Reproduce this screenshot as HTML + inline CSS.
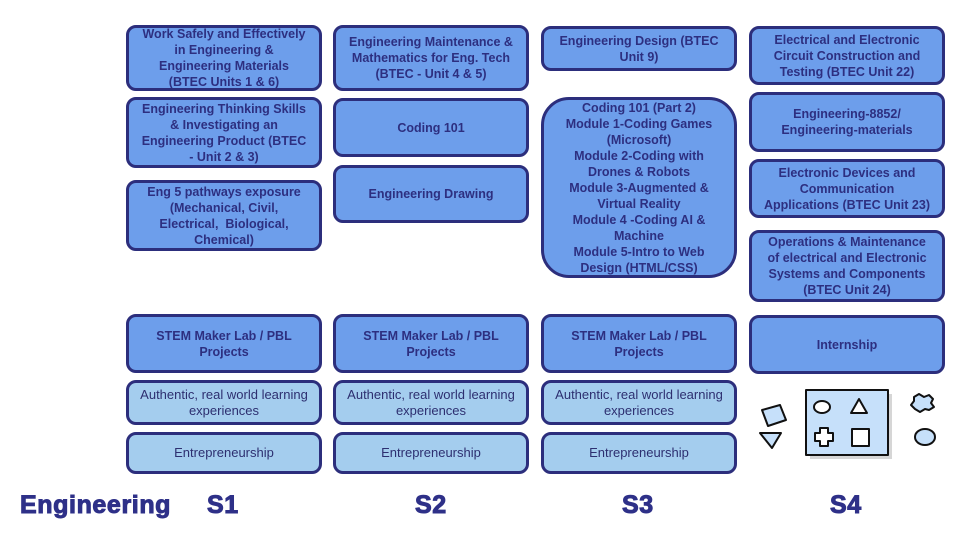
<!DOCTYPE html>
<html><head><meta charset="utf-8"><style>
body{margin:0;width:960px;height:540px;background:#fff;position:relative;overflow:hidden;font-family:"Liberation Sans",sans-serif}
.b{position:absolute;box-sizing:border-box;border:3px solid #2c2e7c;border-radius:10px;background:#6d9eeb;color:#2d2f80;font-weight:bold;font-size:12.5px;line-height:16px;text-align:center;display:flex;align-items:center;justify-content:center;padding:0 2px;white-space:nowrap}
.l{background:#a4cdee;font-weight:normal;font-size:13px;color:#2d2f70}
.t{position:absolute;top:491px;font-weight:900;font-size:25px;color:#2e3088;letter-spacing:0.6px;-webkit-text-stroke:1px #2e3088}
</style></head><body>
<div class="b" style="left:126px;top:25px;width:196px;height:66px">Work Safely and Effectively<br>in Engineering &amp;<br>Engineering Materials<br>(BTEC Units 1 &amp; 6)</div>
<div class="b" style="left:126px;top:97px;width:196px;height:71px">Engineering Thinking Skills<br>&amp; Investigating an<br>Engineering Product (BTEC<br>- Unit 2 &amp; 3)</div>
<div class="b" style="left:126px;top:180px;width:196px;height:71px">Eng 5 pathways exposure<br>(Mechanical, Civil,<br>Electrical,&nbsp; Biological,<br>Chemical)</div>

<div class="b" style="left:333px;top:25px;width:196px;height:66px">Engineering Maintenance &amp;<br>Mathematics for Eng. Tech<br>(BTEC - Unit 4 &amp; 5)</div>
<div class="b" style="left:333px;top:98px;width:196px;height:59px">Coding 101</div>
<div class="b" style="left:333px;top:165px;width:196px;height:58px">Engineering Drawing</div>

<div class="b" style="left:541px;top:26px;width:196px;height:45px">Engineering Design (BTEC<br>Unit 9)</div>
<div class="b" style="left:541px;top:97px;width:196px;height:181px;border-radius:28px">Coding 101 (Part 2)<br>Module 1-Coding Games<br>(Microsoft)<br>Module 2-Coding with<br>Drones &amp; Robots<br>Module 3-Augmented &amp;<br>Virtual Reality<br>Module 4 -Coding AI &amp;<br>Machine<br>Module 5-Intro to Web<br>Design (HTML/CSS)</div>

<div class="b" style="left:749px;top:26px;width:196px;height:59px">Electrical and Electronic<br>Circuit Construction and<br>Testing (BTEC Unit 22)</div>
<div class="b" style="left:749px;top:92px;width:196px;height:60px">Engineering-8852/<br>Engineering-materials</div>
<div class="b" style="left:749px;top:159px;width:196px;height:59px">Electronic Devices and<br>Communication<br>Applications (BTEC Unit 23)</div>
<div class="b" style="left:749px;top:230px;width:196px;height:72px">Operations &amp; Maintenance<br>of electrical and Electronic<br>Systems and Components<br>(BTEC Unit 24)</div>

<div class="b" style="left:126px;top:314px;width:196px;height:59px">STEM Maker Lab / PBL<br>Projects</div>
<div class="b" style="left:333px;top:314px;width:196px;height:59px">STEM Maker Lab / PBL<br>Projects</div>
<div class="b" style="left:541px;top:314px;width:196px;height:59px">STEM Maker Lab / PBL<br>Projects</div>
<div class="b" style="left:749px;top:315px;width:196px;height:59px">Internship</div>

<div class="b l" style="left:126px;top:380px;width:196px;height:45px">Authentic, real world learning<br>experiences</div>
<div class="b l" style="left:333px;top:380px;width:196px;height:45px">Authentic, real world learning<br>experiences</div>
<div class="b l" style="left:541px;top:380px;width:196px;height:45px">Authentic, real world learning<br>experiences</div>
<div class="b l" style="left:126px;top:432px;width:196px;height:42px">Entrepreneurship</div>
<div class="b l" style="left:333px;top:432px;width:196px;height:42px">Entrepreneurship</div>
<div class="b l" style="left:541px;top:432px;width:196px;height:42px">Entrepreneurship</div>

<svg style="position:absolute;left:740px;top:370px" width="220" height="110" viewBox="0 0 220 110">
<g stroke="#111" stroke-width="2" fill="#c6e0fa" stroke-linejoin="round">
<rect x="70" y="24" width="82" height="65" fill="#bbb" stroke="none" opacity="0.6"/>
<rect x="66" y="20" width="82" height="65"/>
<ellipse cx="82" cy="37" rx="8" ry="6" fill="#fff"/>
<polygon points="119,29 111,43 127,43" fill="#fff"/>
<path d="M80,58 h8 v5 h5 v8 h-5 v5 h-8 v-5 h-5 v-8 h5z" fill="#fff"/>
<rect x="112" y="59" width="17" height="17" fill="#fff"/>
<polygon points="22,40 40,35 46,50 28,56"/>
<polygon points="20,63 41,63 32,78"/>
<path d="M174,27 l5,-3 5,3 5,-2 4,4 -2,4 3,4 -5,3 -4,-1 -5,3 -5,-3 -4,-4 3,-4z"/>
<ellipse cx="185" cy="67" rx="10" ry="8"/>
</g></svg>

<div class="t" style="left:20px">Engineering</div>
<div class="t" style="left:207px">S1</div>
<div class="t" style="left:415px">S2</div>
<div class="t" style="left:622px">S3</div>
<div class="t" style="left:830px">S4</div>
</body></html>
